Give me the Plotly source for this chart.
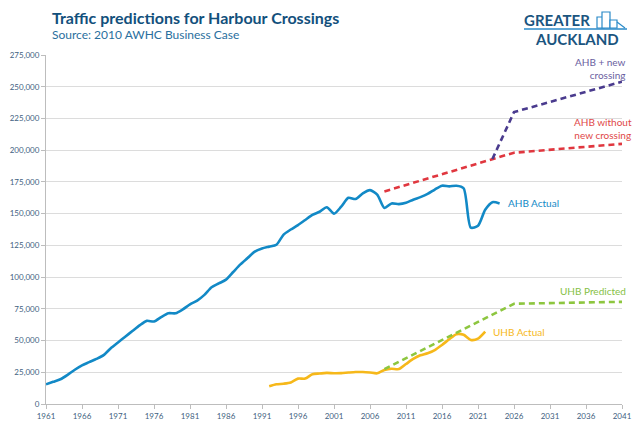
import plotly.graph_objects as go

# ---------------- data ----------------
ahb_years = list(range(1961, 2025))
ahb_actual = [15500, 17500, 19500, 23000, 27000, 30500, 33000, 35500, 38500, 44000,
              48500, 53000, 57500, 62000, 65500, 65000, 68500, 71500, 71500, 74500,
              78500, 81500, 86000, 92000, 95000, 98000, 104000, 110000, 115000, 120000,
              122500, 124000, 125500, 133500, 137500, 141000, 145000, 149000, 151500, 155000,
              150000, 155500, 162500, 161500, 166000, 168500, 165000, 154500, 158000, 157500,
              158500, 161000, 163000, 165500, 169000, 172000, 171500, 172000, 170000, 139000,
              140500, 153000, 159000, 158000]

uhb_years = list(range(1992, 2023))
uhb_actual = [14000, 15500, 16000, 17000, 20000, 20000, 23500, 24000, 24500, 24200,
              24300, 24800, 25200, 25200, 24800, 24200, 26800, 27800, 27500, 31500,
              35500, 38400, 40000, 42500, 46500, 51000, 55000, 54500, 50500, 51500,
              57000]

ahb_nocross_years = [2008, 2023, 2026, 2041]
ahb_nocross = [167500, 193000, 198000, 205000]

ahb_new_years = [2023, 2026, 2041]
ahb_new = [193000, 230000, 254000]

uhb_pred_years = [2008, 2026, 2041]
uhb_pred = [27500, 79000, 80500]

x_ticks = list(range(1961, 2042, 5))
y_ticks = list(range(0, 275001, 25000))
y_tick_labels = ["0" if v == 0 else f"{v:,}" for v in y_ticks]

# ---------------- colours ----------------
BLUE = "#1289c6"
YELLOW = "#f6b81a"
RED = "#e0373f"
PURPLE = "#4a3b8e"
GREEN = "#8dc63f"
TICK = "#3f5f7f"
GRID = "#dcdcdc"
AXIS = "#bdbdbd"

fig = go.Figure()

fig.add_trace(go.Scatter(x=ahb_years, y=ahb_actual, mode="lines",
                         line=dict(color=BLUE, width=2.6, shape="spline", smoothing=0.7),
                         name="AHB Actual"))
fig.add_trace(go.Scatter(x=uhb_years, y=uhb_actual, mode="lines",
                         line=dict(color=YELLOW, width=2.6, shape="spline", smoothing=0.7),
                         name="UHB Actual"))
fig.add_trace(go.Scatter(x=ahb_nocross_years, y=ahb_nocross, mode="lines",
                         line=dict(color=RED, width=2.6, dash="6px,4px"),
                         name="AHB without new crossing"))
fig.add_trace(go.Scatter(x=ahb_new_years, y=ahb_new, mode="lines",
                         line=dict(color=PURPLE, width=2.6, dash="6px,4px"),
                         name="AHB + new crossing"))
fig.add_trace(go.Scatter(x=uhb_pred_years, y=uhb_pred, mode="lines",
                         line=dict(color=GREEN, width=2.6, dash="6px,4px"),
                         name="UHB Predicted"))

L, R, T, B = 46, 18, 55, 24
W, H = 640, 428


def px(xp):
    return (xp - L) / (W - L - R)


def py(yp):
    return (H - B - yp) / (H - B - T)


fig.update_layout(
    width=W, height=H,
    margin=dict(l=L, r=R, t=T, b=B),
    plot_bgcolor="white", paper_bgcolor="white",
    showlegend=False,
    font=dict(family="Lato", color=TICK),
    xaxis=dict(range=[1961, 2041], tickvals=x_ticks, ticktext=[str(v) for v in x_ticks],
               showgrid=False, zeroline=False, showline=True, linecolor=AXIS, linewidth=1,
               ticks="outside", ticklen=4, tickcolor=AXIS, automargin=False,
               tickfont=dict(family="Lato", size=8, color=TICK)),
    yaxis=dict(range=[0, 275000], tickvals=y_ticks, ticktext=y_tick_labels,
               showgrid=True, gridcolor=GRID, gridwidth=1, zeroline=False,
               showline=True, linecolor=AXIS, linewidth=1, automargin=False,
               ticks="outside", ticklen=4, tickcolor=AXIS,
               tickfont=dict(family="Lato", size=8, color=TICK)),
)

ann = []
# title and subtitle
ann.append(dict(text="<b>Traffic predictions for Harbour Crossings</b>", xref="paper", yref="paper",
                x=px(50), y=py(17), xanchor="left", yanchor="middle", showarrow=False,
                font=dict(family="Lato", size=16, color="#12507c")))
ann.append(dict(text="Source: 2010 AWHC Business Case", xref="paper", yref="paper",
                x=px(50), y=py(35), xanchor="left", yanchor="middle", showarrow=False,
                font=dict(family="Lato", size=12, color="#2a6f9e")))
# logo
ann.append(dict(text="<b>GREATER</b>", xref="paper", yref="paper",
                x=px(592), y=py(20), xanchor="right", yanchor="middle", showarrow=False,
                font=dict(family="Lato", size=15, color="#1b557f")))
ann.append(dict(text="<b>AUCKLAND</b>", xref="paper", yref="paper",
                x=px(621), y=py(39), xanchor="right", yanchor="middle", showarrow=False,
                font=dict(family="Lato", size=15, color="#1b557f")))

# series labels (paper coordinates so they are not hidden outside the x range)
ann.append(dict(text="AHB + new<br>crossing", x=px(628), y=py(68), xref="paper", yref="paper",
                xanchor="right", yanchor="middle", align="right", showarrow=False,
                font=dict(family="Lato", size=10, color="#6a5ea0")))
ann.append(dict(text="AHB without<br>new crossing", x=px(603), y=py(128), xref="paper", yref="paper",
                xanchor="center", yanchor="middle", align="center", showarrow=False,
                font=dict(family="Lato", size=10, color="#e04848")))
ann.append(dict(text="AHB Actual", x=px(506), y=py(203), xref="paper", yref="paper",
                xanchor="left", yanchor="middle", showarrow=False,
                font=dict(family="Lato", size=10, color=BLUE)))
ann.append(dict(text="UHB Predicted", x=px(628), y=py(291), xref="paper", yref="paper",
                xanchor="right", yanchor="middle", showarrow=False,
                font=dict(family="Lato", size=10, color="#86bf45")))
ann.append(dict(text="UHB Actual", x=px(491), y=py(332), xref="paper", yref="paper",
                xanchor="left", yanchor="middle", showarrow=False,
                font=dict(family="Lato", size=10, color=YELLOW)))
fig.update_layout(annotations=ann)

# logo decoration: underline + simple building icon
shapes = [
    dict(type="line", xref="paper", yref="paper", x0=px(524), x1=px(627), y0=py(29), y1=py(29),
         line=dict(color="#2a8ac8", width=1.5)),
    dict(type="rect", xref="paper", yref="paper", x0=px(597), x1=px(604), y0=py(28), y1=py(17),
         line=dict(color="#2a8ac8", width=1.2), fillcolor="white"),
    dict(type="rect", xref="paper", yref="paper", x0=px(602), x1=px(610), y0=py(28), y1=py(12),
         line=dict(color="#2a8ac8", width=1.2), fillcolor="white"),
    dict(type="rect", xref="paper", yref="paper", x0=px(610), x1=px(617), y0=py(28), y1=py(20),
         line=dict(color="#2a8ac8", width=1.2), fillcolor="white"),
    dict(type="line", xref="paper", yref="paper", x0=px(617), x1=px(625), y0=py(22), y1=py(28),
         line=dict(color="#2a8ac8", width=1.2)),
]
fig.update_layout(shapes=shapes)

fig.write_html("out.html")
